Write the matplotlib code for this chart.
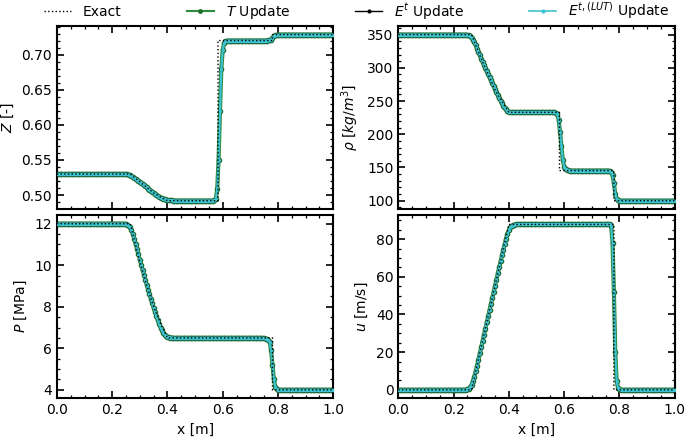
import numpy as np
import matplotlib
matplotlib.use('Agg')
import matplotlib.pyplot as plt
from matplotlib.ticker import AutoMinorLocator
from matplotlib.lines import Line2D

# numerical solution sampled on a 201 point grid (dx = 0.005)
x_grid = np.linspace(0, 1, 201)

# plateaus are written as repeated constants, transitions point by point
z_num = ([0.530] * 50 +
         [0.5298, 0.5295, 0.5290, 0.5282, 0.5271, 0.5258, 0.5245, 0.5231, 0.5217, 0.5203,
          0.5189, 0.5173, 0.5157, 0.5141, 0.5125, 0.5109, 0.5093, 0.5077, 0.5061, 0.5045,
          0.5030, 0.5015, 0.5001, 0.4988, 0.4976, 0.4965, 0.4955, 0.4946, 0.4939, 0.4933,
          0.4929, 0.4926, 0.4924, 0.4923, 0.4922] +
         [0.4922] * 28 +
         [0.4922, 0.4925, 0.4950, 0.5080, 0.5500, 0.6200, 0.6800, 0.7070, 0.7160, 0.7188, 0.7197] +
         [0.7200] * 29 +
         [0.7201, 0.7205, 0.7215, 0.7240, 0.7265, 0.7277, 0.7282, 0.7284] +
         [0.7285] * 40)

rho_num = ([350.0] * 50 +
           [349.5, 348.8, 347.5, 345.5, 342.5, 338.5, 334.0, 329.0, 324.0, 319.0,
            314.0, 309.0, 304.0, 299.0, 294.5, 290.0, 285.5, 281.0, 276.5, 272.0,
            267.5, 263.0, 258.5, 254.5, 250.5, 246.5, 243.0, 240.0, 237.5, 235.5,
            234.2, 233.5, 233.2, 233.1, 233.0] +
           [233.0] * 28 +
           [232.9, 232.6, 230.5, 222.0, 204.0, 182.0, 162.0, 151.0, 147.0, 145.8, 145.5] +
           [145.3] * 29 +
           [145.0, 143.5, 138.0, 126.0, 110.0, 102.5, 100.6, 100.1] +
           [100.0] * 40)

p_num = ([12.0] * 50 +
         [11.99, 11.96, 11.91, 11.82, 11.68, 11.49, 11.27, 11.03, 10.78, 10.52,
          10.27, 10.02, 9.77, 9.53, 9.29, 9.06, 8.83, 8.60, 8.38, 8.16,
          7.95, 7.74, 7.54, 7.35, 7.17, 7.00, 6.86, 6.74, 6.65, 6.59,
          6.55, 6.53, 6.52, 6.51, 6.51] +
         [6.50] * 64 +
         [6.49, 6.48, 6.47, 6.45, 6.42, 6.30, 5.90, 5.20, 4.50, 4.15, 4.04, 4.01] +
         [4.00] * 40)

u_num = ([0.0] * 49 +
         [0.05, 0.2, 0.6, 1.4, 2.7, 4.6, 7.0, 9.8, 12.9, 16.1,
          19.4, 22.7, 26.0, 29.3, 32.5, 35.8, 39.0, 42.3, 45.5, 48.8,
          52.0, 55.3, 58.5, 61.8, 65.0, 68.2, 71.4, 74.5, 77.5, 80.3,
          82.8, 84.8, 86.2, 87.0, 87.5, 87.7, 87.8] +
         [87.8] * 64 +
         [88.0, 88.1, 88.2, 88.0, 87.0, 78.0, 52.0, 20.0, 4.5, 1.0, 0.2] +
         [0.0] * 40)

for arr in (z_num, rho_num, p_num, u_num):
    assert len(arr) == 201, len(arr)

# exact solution breakpoints
z_ex_x = [0, 0.265, 0.30, 0.325, 0.35, 0.375, 0.40, 0.583, 0.583, 0.78, 0.78, 1.0]
z_ex_y = [0.530, 0.530, 0.519, 0.511, 0.503, 0.497, 0.492, 0.492, 0.720, 0.720, 0.7285, 0.7285]
rho_ex_x = [0, 0.265, 0.30, 0.325, 0.35, 0.375, 0.40, 0.583, 0.583, 0.78, 0.78, 1.0]
rho_ex_y = [350, 350, 314, 290, 267, 249, 233, 233, 145.3, 145.3, 100, 100]
p_ex_x = [0, 0.265, 0.30, 0.325, 0.35, 0.375, 0.40, 0.78, 0.78, 1.0]
p_ex_y = [12, 12, 10.2, 9.05, 8.0, 7.2, 6.5, 6.5, 4.0, 4.0]
u_ex_x = [0, 0.265, 0.40, 0.78, 0.78, 1.0]
u_ex_y = [0, 0, 87.8, 87.8, 0, 0]

plt.rcParams['font.size'] = 10
plt.rcParams['mathtext.fontset'] = 'dejavusans'

fig, axs = plt.subplots(2, 2, figsize=(6.85, 4.38), dpi=100, sharex=True)
fig.subplots_adjust(left=0.083, right=0.985, top=0.94, bottom=0.091, wspace=0.235, hspace=0.035)

panels = [
    (axs[0, 0], z_num, z_ex_x, z_ex_y, r'$Z$ [-]'),
    (axs[0, 1], rho_num, rho_ex_x, rho_ex_y, r'$\rho$ [$kg/m^3$]'),
    (axs[1, 0], p_num, p_ex_x, p_ex_y, r'$P$ [MPa]'),
    (axs[1, 1], u_num, u_ex_x, u_ex_y, r'$u$ [m/s]'),
]

green = '#2e8b3e'
dkgreen = '#1f6e2c'
cyan = '#3cc3d0'

for ax, num, ex_x, ex_y, lab in panels:
    ax.plot(ex_x, ex_y, ':', color='k', lw=1.0, zorder=5)
    ax.plot(x_grid, num, '-', color=green, lw=3.0, marker='.', ms=6,
            mfc=dkgreen, mec=dkgreen, zorder=2)
    ax.plot(x_grid, num, '-', color='k', lw=1.0, marker='.', ms=3, zorder=3)
    ax.plot(x_grid, num, '-', color=cyan, lw=1.6, marker='.', ms=3, zorder=4)
    ax.set_ylabel(lab)
    ax.set_xlim(0, 1)
    ax.set_xticks([0, 0.2, 0.4, 0.6, 0.8, 1.0])
    ax.xaxis.set_minor_locator(AutoMinorLocator())
    ax.yaxis.set_minor_locator(AutoMinorLocator())
    ax.tick_params(which='both', direction='in', top=True, right=True, width=1.2)
    ax.tick_params(which='major', length=5)
    ax.tick_params(which='minor', length=2.5, width=0.9)
    for s in ax.spines.values():
        s.set_linewidth(1.5)

axs[1, 0].set_xlabel('x [m]')
axs[1, 1].set_xlabel('x [m]')
axs[0, 0].yaxis.set_ticks([0.50, 0.55, 0.60, 0.65, 0.70])

# thin legend handles like the reference
handles = [
    Line2D([], [], ls=':', color='k', lw=1.0),
    Line2D([], [], color=green, lw=1.5, marker='.', ms=5, mfc=dkgreen, mec=dkgreen),
    Line2D([], [], color='k', lw=1.0, marker='.', ms=4),
    Line2D([], [], color=cyan, lw=1.2, marker='.', ms=4),
]
labels = ['Exact', r'$T$ Update', r'$E^t$ Update', r'$E^{t,(LUT)}$ Update']
fig.legend(handles, labels, loc='upper left', bbox_to_anchor=(0.06, 1.005),
           ncol=4, frameon=False, handlelength=1.95, handletextpad=0.85,
           columnspacing=4.7, fontsize=10, borderaxespad=0.0, borderpad=0.2)

fig.savefig('out.png', dpi=100)
